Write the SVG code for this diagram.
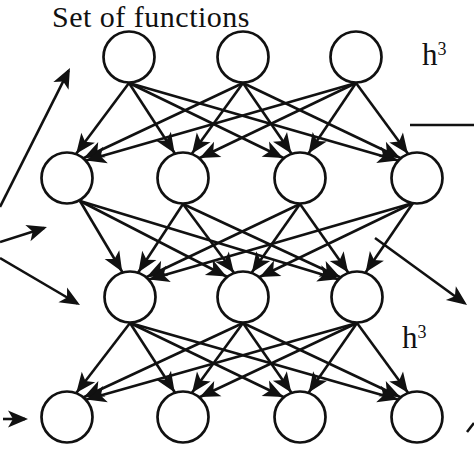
<svg xmlns="http://www.w3.org/2000/svg" width="474" height="474" viewBox="0 0 474 474">
<style>
.e{stroke:#111;stroke-width:2.6;fill:none}
.m1{marker-end:url(#m1)}
.m2{marker-end:url(#m2)}
.m3{marker-end:url(#m3)}
.m0{marker-end:url(#m0)}
.n{fill:#fff;stroke:#111;stroke-width:2.7}
.t{font-family:"Liberation Serif","Times New Roman",serif;fill:#111}
</style>
<defs>
<marker id="m1" markerUnits="userSpaceOnUse" viewBox="-60 -20 80 40" markerWidth="80" markerHeight="40" refX="0" refY="0" orient="auto" overflow="visible"><path d="M-15.3,0 L-35.3,-8.5 L-30.3,0 L-35.3,8.5 z" fill="#111"/></marker>
<marker id="m2" markerUnits="userSpaceOnUse" viewBox="-60 -20 80 40" markerWidth="80" markerHeight="40" refX="0" refY="0" orient="auto" overflow="visible"><path d="M-18.5,0 L-38.5,-8.5 L-33.5,0 L-38.5,8.5 z" fill="#111"/></marker>
<marker id="m3" markerUnits="userSpaceOnUse" viewBox="-60 -20 80 40" markerWidth="80" markerHeight="40" refX="0" refY="0" orient="auto" overflow="visible"><path d="M-20,0 L-40,-8.5 L-35,0 L-40,8.5 z" fill="#111"/></marker>
<marker id="m0" markerUnits="userSpaceOnUse" viewBox="-60 -20 80 40" markerWidth="80" markerHeight="40" refX="0" refY="0" orient="auto" overflow="visible"><path d="M3,0 L-17,-8.5 L-12,0 L-17,8.5 z" fill="#111"/></marker>
</defs>
<rect width="474" height="474" fill="#fff"/>
<g id="connectors" class="e">
<line class="m1" x1="129" y1="83" x2="67" y2="166"/>
<line class="m1" x1="129" y1="83" x2="183" y2="166"/>
<line class="m2" x1="129" y1="83" x2="300" y2="166"/>
<line class="m3" x1="129" y1="83" x2="417" y2="166"/>
<line class="m2" x1="243" y1="83" x2="67" y2="166"/>
<line class="m1" x1="243" y1="83" x2="183" y2="166"/>
<line class="m1" x1="243" y1="83" x2="300" y2="166"/>
<line class="m2" x1="243" y1="83" x2="417" y2="166"/>
<line class="m3" x1="356" y1="83" x2="67" y2="166"/>
<line class="m2" x1="356" y1="83" x2="183" y2="166"/>
<line class="m1" x1="356" y1="83" x2="300" y2="166"/>
<line class="m1" x1="356" y1="83" x2="417" y2="166"/>
<line class="m1" x1="80" y1="201" x2="130" y2="285"/>
<line class="m2" x1="80" y1="201" x2="243" y2="285"/>
<line class="m3" x1="80" y1="201" x2="357" y2="285"/>
<line class="m1" x1="183" y1="204" x2="130" y2="285"/>
<line class="m1" x1="183" y1="204" x2="243" y2="285"/>
<line class="m2" x1="183" y1="204" x2="357" y2="285"/>
<line class="m2" x1="300" y1="204" x2="130" y2="285"/>
<line class="m1" x1="300" y1="204" x2="243" y2="285"/>
<line class="m1" x1="300" y1="204" x2="357" y2="285"/>
<line class="m3" x1="413" y1="203" x2="130" y2="285"/>
<line class="m2" x1="413" y1="203" x2="243" y2="285"/>
<line class="m1" x1="413" y1="203" x2="357" y2="285"/>
<line class="m1" x1="130" y1="323" x2="67" y2="405"/>
<line class="m1" x1="130" y1="323" x2="183" y2="405"/>
<line class="m2" x1="130" y1="323" x2="300" y2="405"/>
<line class="m3" x1="130" y1="323" x2="417" y2="405"/>
<line class="m2" x1="243" y1="323" x2="67" y2="405"/>
<line class="m1" x1="243" y1="323" x2="183" y2="405"/>
<line class="m1" x1="243" y1="323" x2="300" y2="405"/>
<line class="m2" x1="243" y1="323" x2="417" y2="405"/>
<line class="m3" x1="357" y1="323" x2="67" y2="405"/>
<line class="m2" x1="357" y1="323" x2="183" y2="405"/>
<line class="m1" x1="357" y1="323" x2="300" y2="405"/>
<line class="m1" x1="357" y1="323" x2="417" y2="405"/>
<line class="m0" x1="0" y1="207" x2="68.6" y2="70.7"/>
<line class="m0" x1="0" y1="242" x2="44.1" y2="227.9"/>
<line class="m0" x1="0" y1="258" x2="77.4" y2="303.5"/>
<line class="m0" x1="3" y1="419" x2="25" y2="419"/>
<line class="m0" x1="375" y1="238" x2="464.6" y2="303.2"/>
<line x1="410" y1="125" x2="474" y2="125"/>
<line x1="467" y1="432" x2="474" y2="423"/>
</g>
<g id="n-a1"><circle class="n" cx="129" cy="57" r="25.5"/></g>
<g id="n-a2"><circle class="n" cx="243" cy="57" r="25.5"/></g>
<g id="n-a3"><circle class="n" cx="356" cy="57" r="25.5"/></g>
<g id="n-b1"><circle class="n" cx="67" cy="178" r="25.5"/></g>
<g id="n-b2"><circle class="n" cx="183" cy="178" r="25.5"/></g>
<g id="n-b3"><circle class="n" cx="300" cy="178" r="25.5"/></g>
<g id="n-b4"><circle class="n" cx="417" cy="178" r="25.5"/></g>
<g id="n-c1"><circle class="n" cx="130" cy="297" r="25.5"/></g>
<g id="n-c2"><circle class="n" cx="243" cy="297" r="25.5"/></g>
<g id="n-c3"><circle class="n" cx="357" cy="297" r="25.5"/></g>
<g id="n-d1"><circle class="n" cx="67" cy="417" r="25.5"/></g>
<g id="n-d2"><circle class="n" cx="183" cy="417" r="25.5"/></g>
<g id="n-d3"><circle class="n" cx="300" cy="417" r="25.5"/></g>
<g id="n-d4"><circle class="n" cx="417" cy="417" r="25.5"/></g>
<g id="labels">
<text class="t" x="52" y="27" font-size="30" letter-spacing="0.5">Set of functions</text>
<text class="t" x="422" y="65" font-size="31">h<tspan dy="-10" font-size="18">3</tspan></text>
<text class="t" x="402" y="348" font-size="31">h<tspan dy="-10" font-size="18">3</tspan></text>
</g>
</svg>
